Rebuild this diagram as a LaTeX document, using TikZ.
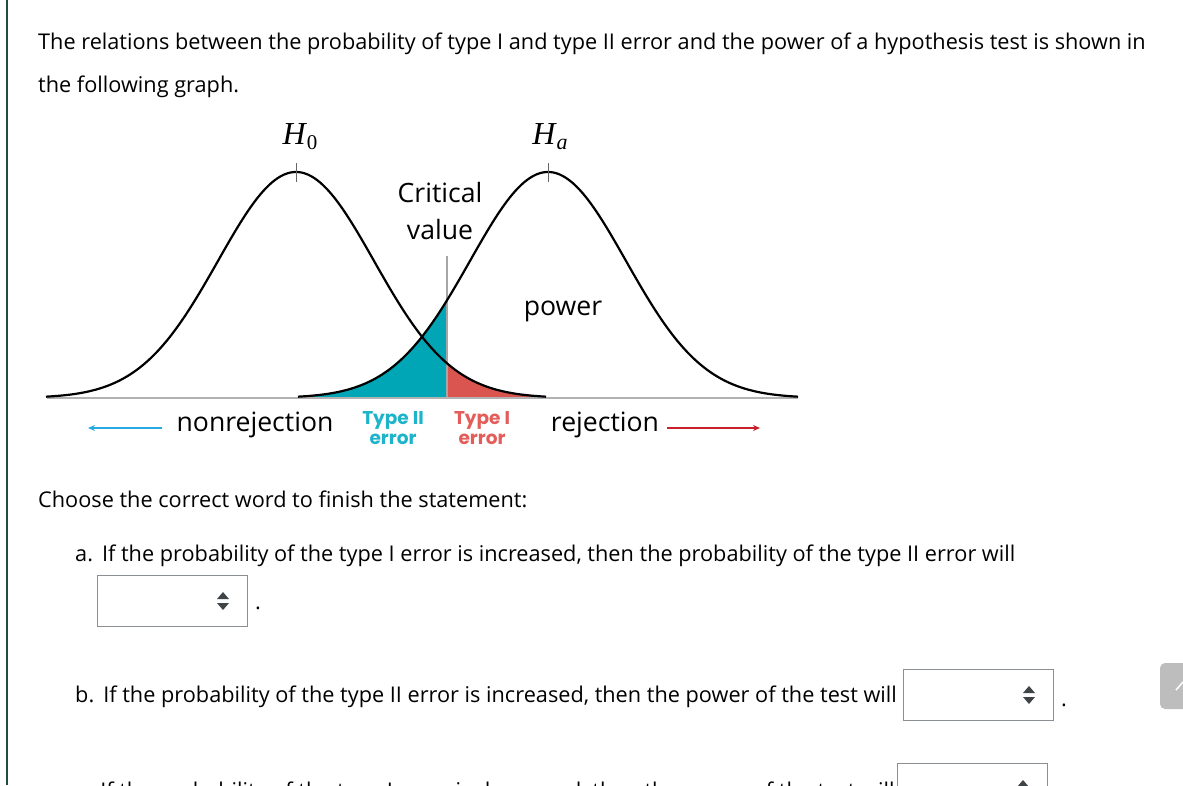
\documentclass[tikz,border=0pt]{standalone}
\usepackage{fontspec}
\setmainfont{Open Sans}
\newfontfamily\popfont{Poppins}
\newfontfamily\mathserif{Liberation Serif}
\usetikzlibrary{arrows.meta}
\definecolor{tealfill}{HTML}{00A5B6}
\definecolor{redfill}{HTML}{DA5450}
\definecolor{typeii}{HTML}{1DB3C9}
\definecolor{typei}{HTML}{E35E5B}
\definecolor{leftarrow}{HTML}{29A9E1}
\definecolor{rightarrow}{HTML}{C8202A}
\definecolor{boxgray}{HTML}{8A8F94}
\definecolor{icongray}{HTML}{3F4447}
\definecolor{bordergreen}{HTML}{1E4D40}
\definecolor{tabgray}{HTML}{BDBDBD}
\tikzset{
  bodytext/.style={anchor=base west, inner sep=0pt, font=\fontsize{21.7}{26}\selectfont},
  graphtext/.style={inner sep=0pt, font=\fontsize{26.6}{30}\selectfont},
  hyplabel/.style={inner sep=0pt, font=\mathserif\fontsize{32}{34}\selectfont},
  errlabel/.style={inner sep=0pt, align=center, font=\popfont\bfseries\fontsize{18.5}{19.5}\selectfont},
  selectbox/.style={draw=boxgray, line width=1pt, fill=white},
  curve/.style={line width=2.2pt, black},
}
\begin{document}
\begin{tikzpicture}[x=1pt,y=-1pt]
\useasboundingbox (0,0) rectangle (1183,785);
\clip (0,0) rectangle (1183,785);
% left page border
\draw[bordergreen, line width=1.5pt] (7,0) -- (7,785);
% intro text
\node[bodytext] (l1) at (38,49) {The relations between the probability of type I and type II error and the power of a hypothesis test is shown in};
\node[bodytext] (l2) at (38,92) {the following graph.};
% fills
\fill[tealfill] plot[domain=298:447, samples=80] (\x, {398 - 226*exp(-((\x-548)/78)^2/2)}) -- (447,398) -- (298,398) -- cycle;
\fill[redfill] plot[domain=447:546, samples=60] (\x, {398 - 226*exp(-((\x-296)/78)^2/2)}) -- (546,398) -- (447,398) -- cycle;
% critical value line
\draw[gray!70, line width=1.3pt] (447,256) coordinate (cvtop) -- (447,398) coordinate (cvbot);
% axis
\draw[gray!60, line width=2pt] (47,398) coordinate (axl) -- (798,398) coordinate (axr);
% curves
\draw[curve] plot[domain=46:546, samples=150, smooth] (\x, {398 - 226*exp(-((\x-296)/78)^2/2)});
\draw[curve] plot[domain=298:798, samples=150, smooth] (\x, {398 - 226*exp(-((\x-548)/78)^2/2)});
% ticks at peaks
\draw[gray!80!black, line width=0.8pt] (296,163) -- (296,182);
\draw[gray!80!black, line width=0.8pt] (548,163) -- (548,182);
% labels
\node[hyplabel] (h0) at (300,137) {\itshape H\kern1pt\raisebox{-5pt}{\upshape\fontsize{21}{22}\selectfont 0}};
\node[hyplabel] (ha) at (550,137) {\itshape H\kern1pt\raisebox{-5pt}{\fontsize{22}{22}\selectfont a}};
\node[graphtext] (crit) at (440,193) {Critical};
\node[graphtext] (val) at (440,230) {value};
\node[graphtext] (pow) at (563,311) {power};
\node[graphtext] (nonrej) at (255,425) {nonrejection};
\node[graphtext] (rej) at (605,425) {rejection};
\node[errlabel, text=typeii] (t2) at (393,428) {Type II\\error};
\node[errlabel, text=typei] (t1) at (482,428) {Type I\\error};
% arrows
\coordinate (la) at (88,428);
\coordinate (ra) at (760,428);
\draw[leftarrow, line width=1.2pt, -{Stealth[length=7pt,width=6pt]}] (nonrej.west) ++(-14,3) -- (la);
\draw[rightarrow, line width=1.2pt, -{Stealth[length=7pt,width=6pt]}] (rej.east) ++(8,3) -- (ra);
% question text
\node[bodytext] (choose) at (38,507) {Choose the correct word to finish the statement:};
\node[bodytext] (qa) at (75,561) {a.\hspace{9pt}If the probability of the type I error is increased, then the probability of the type II error will};
\node[selectbox, minimum width=150pt, minimum height=51pt, anchor=north west] (boxa) at (97,575) {};
\fill[icongray] (217,599) -- (229,599) -- (223,592) -- cycle;
\fill[icongray] (217,603) -- (229,603) -- (223,610) -- cycle;
\node[bodytext] (pa) at (255,609) {.};
\node[bodytext] (qb) at (75,702) {b.\hspace{9pt}If the probability of the type II error is increased, then the power of the test will};
\node[selectbox, minimum width=150pt, minimum height=51pt, anchor=north west] (boxb) at (903,669) {};
\fill[icongray] (1023,693) -- (1035,693) -- (1029,686) -- cycle;
\fill[icongray] (1023,697) -- (1035,697) -- (1029,704) -- cycle;
\node[bodytext] (pb) at (1061,706) {.};
\node[bodytext] (qc) at (75,798) {c.\hspace{9pt}If the probability of the type I error is decreased, then the power of the test will};
\node[selectbox, minimum width=150pt, minimum height=51pt, anchor=north west] (boxc) at (897,763) {};
\fill[icongray] (1017,787) -- (1029,787) -- (1023,780) -- cycle;
% right tab
\fill[tabgray, rounded corners=5pt] (1160,663) rectangle (1195,709);
\draw[white, line width=1.5pt] (1176,690) -- (1183,682);
\end{tikzpicture}
\end{document}
